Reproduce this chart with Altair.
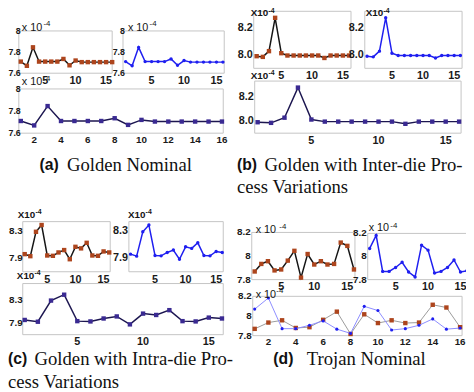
import altair as alt
import pandas as pd

# ---------------- data (values in units of 1e-4) ----------------
index = list(range(1, 17))
golden_nominal = [7.71, 7.67, 7.845, 7.71, 7.71, 7.71, 7.71, 7.735,
                  7.675, 7.72, 7.705, 7.705, 7.705, 7.705, 7.705, 7.705]
golden_inter = [7.993, 7.988, 8.03, 8.275, 8.015, 7.998, 7.998, 7.998,
                7.998, 7.998, 7.998, 7.98, 7.998, 7.998, 7.998, 7.998]
golden_intra = [7.96, 7.93, 8.29, 8.39, 7.94, 7.935, 7.985, 8.02,
                7.885, 8.068, 8.045, 8.127, 7.94, 7.935, 8.0, 7.985]
trojan_s1 = [7.869, 7.933, 7.956, 7.878, 7.886, 7.961, 8.044, 7.817,
             8.017, 7.928, 7.956, 7.928, 7.933, 8.114, 8.086, 7.886]
trojan_s2 = [8.07, 8.183, 7.871, 7.871, 7.905, 7.95, 7.866, 7.823,
             8.098, 8.055, 7.857, 7.871, 7.905, 7.97, 7.866, 7.877]

ticks_5 = [5, 10, 15]
ticks_2 = [2, 4, 6, 8, 10, 12, 14, 16]
yt_a = [7.6, 7.8, 8.0]
yt_b = [8.0, 8.2]
yt_c = [7.9, 8.3]
yt_d = [7.8, 8.0, 8.2]

exp_small = ["x 10", "-4"]
exp_bold = ["X10", "-4"]
cap_a = ["(a)", "Golden Nominal"]
cap_b = ["(b)", "Golden with Inter-die Pro-", "cess Variations"]
cap_c = ["(c)", "Golden with Intra-die Pro-", "cess Variations"]
cap_d = ["(d)", "Trojan Nominal"]

# ---------------- styling / layout ----------------
W, H = 466, 384
OFF = 8
SANS = "Liberation Sans"
SERIF = "Liberation Serif"
BROWN = "#ad451d"
BLUE = "#1f1ff0"
BLACK = "#151515"
NAVY_LINE = "#1c1650"
NAVY_PT = "#3a2a92"
FRAME = "#c4c4c4"
LABEL = "#1a1a1a"


def xdomain(L, R, p1, p16):
    u = (p16 - p1) / 15.0
    return [1 - (p1 - L) / u, 16 + (R - p16) / u]


def panel(series, xpix, ydom, yr, xvals, yvals, yfmt, xfs, yfs, exp, exp_pos, ydx=-1):
    L, R, p1, p16 = xpix
    xdom = xdomain(L, R, p1, p16)
    xs = alt.Scale(domain=xdom, range=[L - OFF, R - OFF], nice=False, zero=False)
    ys = alt.Scale(domain=ydom, range=[yr[0] - OFF, yr[1] - OFF], nice=False, zero=False)
    fdf = pd.DataFrame({"x0": [xdom[0]], "x1": [xdom[1]], "y0": [ydom[0]], "y1": [ydom[1]]})
    frame = alt.Chart(fdf).mark_rect(fillOpacity=0, stroke=FRAME, strokeWidth=1).encode(
        x=alt.X("x0:Q", scale=xs, axis=None), x2="x1",
        y=alt.Y("y0:Q", scale=ys, axis=None), y2="y1",
    )
    layers = [frame]
    for vals, lc, lw, pc, shape, size in series:
        df = pd.DataFrame({"i": index, "v": vals})
        enc = dict(x=alt.X("i:Q", scale=xs, axis=None), y=alt.Y("v:Q", scale=ys, axis=None))
        layers.append(alt.Chart(df).mark_line(color=lc, strokeWidth=lw).encode(**enc))
        layers.append(alt.Chart(df).mark_point(shape=shape, filled=True, size=size,
                                                color=pc, opacity=1).encode(**enc))
    # tick labels drawn through the panel scales
    xdf = pd.DataFrame({"t": xvals})
    xdf["base"] = ydom[0]
    layers.append(alt.Chart(xdf).mark_text(
        align="center", baseline="top", dy=2, font=SANS, fontWeight="bold",
        fontSize=xfs, color=LABEL).encode(
        x=alt.X("t:Q", scale=xs, axis=None), y=alt.Y("base:Q", scale=ys, axis=None),
        text=alt.Text("t:Q", format="d")))
    ydf = pd.DataFrame({"t": yvals})
    ydf["base"] = xdom[0]
    layers.append(alt.Chart(ydf).mark_text(
        align="right", baseline="middle", dx=ydx, font=SANS, fontWeight="bold",
        fontSize=yfs, color=LABEL).encode(
        x=alt.X("base:Q", scale=xs, axis=None), y=alt.Y("t:Q", scale=ys, axis=None),
        text=alt.Text("t:Q", format=yfmt)))
    # exponent label
    bold = exp is exp_bold
    (dx1, dy1, dx2, dy2) = exp_pos
    tenc = dict(x=alt.X("x0:Q", scale=xs, axis=None), y=alt.Y("y1:Q", scale=ys, axis=None))
    layers.append(alt.Chart(fdf).mark_text(
        text=exp[0], align="left", baseline="middle", dx=dx1, dy=dy1, font=SANS,
        fontSize=10 if bold else 11, fontWeight="bold" if bold else "normal",
        color=BLACK).encode(**tenc))
    layers.append(alt.Chart(fdf).mark_text(
        text=exp[1], align="left", baseline="middle", dx=dx2, dy=dy2, font=SANS,
        fontSize=7 if bold else 8, fontWeight="bold" if bold else "normal",
        color=BLACK).encode(**tenc))
    return alt.layer(*layers)


def brown(vals):
    return (vals, BLACK, 1.5, BROWN, "square", 20)


def blue(vals):
    return (vals, BLUE, 1.5, BLUE, "circle", 12)


def navy(vals):
    return (vals, NAVY_LINE, 1.5, NAVY_PT, "square", 20)


panels = [
    # (a)
    panel([brown(golden_nominal)], (19, 114, 21, 114), [7.6, 8.0], [71, 28],
          ticks_5, yt_a, "~g", 11, 9, exp_small, (3, -3, 25, -7), ydx=2),
    panel([blue(golden_nominal)], (125, 228, 127.7, 226.7), [7.6, 8.0], [71, 28],
          ticks_5, yt_a, "~g", 11, 9, exp_small, (5, -3, 27, -7), ydx=2),
    panel([navy(golden_nominal)], (19, 227, 21, 225.7), [7.6, 8.0], [132, 87],
          ticks_2, yt_a, "~g", 10, 9, exp_small, (3, -7, 25, -10), ydx=2),
    # (b)
    panel([brown(golden_inter)], (258, 357, 261, 355), [7.904, 8.323], [66, 8],
          ticks_5, yt_b, ".1f", 11, 11, exp_bold, (-3, 2, 15, 0)),
    panel([blue(golden_inter)], (371, 470, 373.3, 468.3), [7.904, 8.323], [66, 8],
          ticks_5, yt_b, ".1f", 11, 11, exp_bold, (1, 2, 19, 0)),
    panel([navy(golden_inter)], (259, 469, 262, 467), [7.904, 8.328], [132, 79],
          ticks_5, yt_b, ".1f", 11, 11, exp_bold, (-4, -5, 14, -8)),
    # (c)
    panel([brown(golden_intra)], (23, 112, 25, 111), [7.70, 8.44], [273, 222],
          ticks_5, yt_c, ".1f", 11, 10, exp_bold, (-5, -7, 13, -10), ydx=0),
    panel([blue(golden_intra)], (131, 227, 132.7, 226), [7.70, 8.44], [273, 222],
          ticks_5, yt_c, ".1f", 11, 11, exp_bold, (-1, -7, 17, -10)),
    panel([navy(golden_intra)], (23, 227, 25, 225.7), [7.71, 8.58], [337, 285],
          ticks_5, yt_c, ".1f", 11, 10, exp_bold, (-6, -8, 12, -11), ydx=0),
    # (d)
    panel([brown(trojan_s1)], (256, 361, 259, 360), [7.8, 8.2], [281, 233],
          ticks_5, yt_d, "~g", 11, 10, exp_small, (4, -2, 28, -6)),
    panel([blue(trojan_s2)], (374, 482, 376, 475), [7.8, 8.2], [281, 234],
          ticks_5, yt_d, "~g", 11, 10, exp_small, (1, -5, 23, -8)),
    panel([(trojan_s1, "#9a9a9a", 1, BROWN, "square", 20),
           (trojan_s2, "#8c8cff", 1, BLUE, "circle", 10)],
          (257, 470, 259, 468), [7.8, 8.2], [338, 298],
          ticks_2, yt_d, "~g", 10, 10, exp_small, (3, -1, 24, -5)),
]

one = pd.DataFrame({"k": [0]})


def caption(text, px, py, bold):
    return alt.Chart(one).mark_text(
        align="left", baseline="middle",
        font=SANS if bold else SERIF,
        fontSize=16 if bold else 19,
        fontWeight="bold" if bold else "normal",
        color="#111111",
    ).encode(x=alt.value(px - OFF), y=alt.value(py - OFF), text=alt.value(text))


caps = [
    caption(cap_a[0], 40, 164, True), caption(cap_a[1], 68, 164, False),
    caption(cap_b[0], 241, 164, True), caption(cap_b[1], 269, 164, False),
    caption(cap_b[2], 241, 187, False),
    caption(cap_c[0], 8, 362, True), caption(cap_c[1], 35, 362, False),
    caption(cap_c[2], 8, 385, False),
    caption(cap_d[0], 278, 362, True), caption(cap_d[1], 312, 362, False),
]

chart = alt.layer(*panels, *caps).resolve_scale(
    x="independent", y="independent"
).properties(
    width=W, height=H, autosize=alt.AutoSizeParams(type="none"), padding=0
).configure_view(stroke=None)

chart.save("out.html", embed_options={"renderer": "svg", "actions": False})
